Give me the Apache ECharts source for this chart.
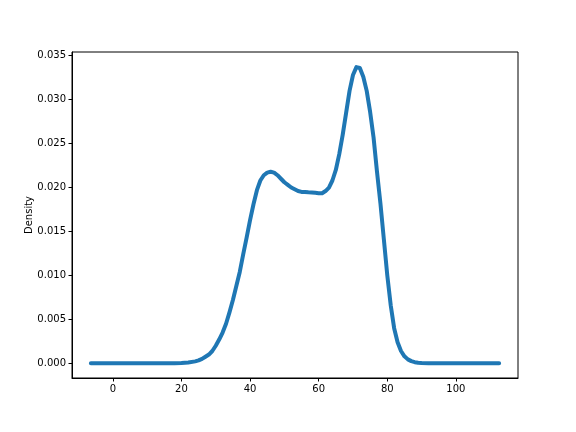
<!DOCTYPE html>
<html>
<head>
<meta charset="utf-8">
<script src="https://cdn.jsdelivr.net/npm/echarts@6/dist/echarts.min.js"></script>
<style>html,body{margin:0;padding:0;background:#fff;}#c{width:576px;height:432px;}</style>
</head>
<body>
<div id="c"></div>
<script>
const xValues = [-6.4, 0, 10, 14, 16, 18, 20, 22, 24, 25, 26, 27, 28, 29, 30, 31, 32, 33, 34, 35, 36, 37, 38, 39, 40, 41, 42, 43, 44, 45, 46, 47, 48, 49, 50, 51, 52, 53, 54, 55, 56, 57, 58, 59, 60, 61, 62, 63, 64, 65, 66, 67, 68, 69, 70, 71, 72, 73, 74, 75, 76, 77, 78, 79, 80, 81, 82, 83, 84, 85, 86, 87, 88, 89, 90, 92, 95, 100, 112.6];
const densityValues = [0, 0, 0, 0, 0.00001, 0.00002, 0.00004, 0.0001, 0.00022, 0.00033, 0.0005, 0.00075, 0.001, 0.0014, 0.002, 0.0027, 0.0035, 0.0045, 0.0058, 0.0072, 0.0088, 0.0104, 0.0124, 0.0143, 0.0163, 0.0181, 0.0197, 0.0208, 0.0214, 0.0217, 0.0218, 0.0217, 0.0214, 0.0210, 0.0206, 0.0203, 0.0200, 0.0198, 0.0196, 0.0195, 0.01948, 0.01945, 0.01944, 0.0194, 0.01936, 0.01935, 0.0196, 0.0200, 0.0208, 0.0220, 0.0238, 0.0260, 0.0285, 0.0310, 0.0328, 0.0337, 0.0336, 0.0326, 0.0310, 0.0286, 0.0257, 0.0218, 0.0182, 0.0141, 0.0100, 0.0066, 0.0040, 0.0024, 0.0014, 0.0008, 0.00045, 0.00025, 0.00013, 0.00007, 0.00004, 0.00001, 0, 0, 0];
const xTicks = [0, 20, 40, 60, 80, 100];
const yTicks = [0, 0.005, 0.010, 0.015, 0.020, 0.025, 0.030, 0.035];
const yName = 'Density';

const chart = echarts.init(document.getElementById('c'), null, {renderer: 'canvas'});
const font = 'DejaVu Sans';
chart.setOption({
  animation: false,
  backgroundColor: '#fff',
  grid: {left: 72, right: 58, top: 52, bottom: 54, show: true, borderColor: '#000', borderWidth: 1, backgroundColor: 'transparent'},
  xAxis: {
    type: 'value', min: -11.9, max: 118.1,
    axisLine: {show: true, onZero: false, lineStyle: {color: '#000', width: 1}},
    axisTick: {show: true, length: 3.5, customValues: xTicks, lineStyle: {color: '#000'}},
    axisLabel: {customValues: xTicks, color: '#000', fontFamily: font, fontSize: 10, margin: 6},
    splitLine: {show: false}
  },
  yAxis: {
    type: 'value', min: -0.00167, max: 0.03542,
    name: yName, nameLocation: 'middle', nameGap: 38, nameRotate: 90, nameMoveOverlap: false,
    nameTextStyle: {color: '#000', fontFamily: font, fontSize: 10},
    axisLine: {show: true, onZero: false, lineStyle: {color: '#000', width: 1}},
    axisTick: {show: true, length: 3.5, customValues: yTicks, lineStyle: {color: '#000'}},
    axisLabel: {customValues: yTicks, color: '#000', fontFamily: font, fontSize: 10, margin: 6,
      formatter: v => v.toFixed(3)},
    splitLine: {show: false}
  },
  series: [{
    type: 'line',
    data: xValues.map((x, i) => [x, densityValues[i]]),
    showSymbol: false, symbol: 'none', smooth: false,
    lineStyle: {color: '#1f77b4', width: 4, cap: 'round', join: 'round'}
  }]
});
</script>
</body>
</html>
